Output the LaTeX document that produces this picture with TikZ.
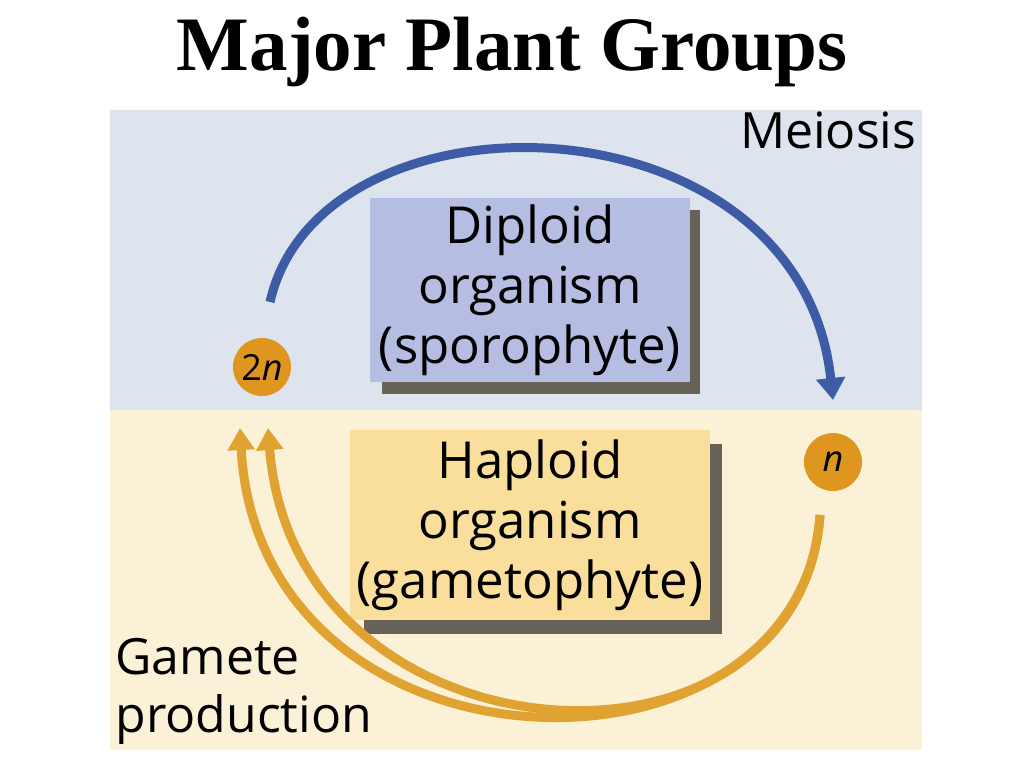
\documentclass[tikz,border=0pt]{standalone}
\usepackage{fontspec}
\setmainfont{Liberation Serif}
\newfontfamily\diag{Open Sans}
\usetikzlibrary{arrows.meta}
\definecolor{bluebg}{RGB}{221,228,238}
\definecolor{yelbg}{RGB}{250,241,214}
\definecolor{bluebox}{RGB}{181,190,226}
\definecolor{yelbox}{RGB}{250,222,155}
\definecolor{shad}{RGB}{105,98,88}
\definecolor{circ}{RGB}{222,150,30}
\definecolor{barrow}{RGB}{62,92,165}
\definecolor{oarrow}{RGB}{224,162,48}
\tikzset{
  lbl/.style={font=\diag\fontsize{51}{60}\selectfont, align=center, text=black},
  sidelbl/.style={font=\diag\fontsize{50}{58}\selectfont, align=left, text=black},
  ploidy/.style={circle, fill=circ, minimum size=58pt, inner sep=0pt, font=\diag\fontsize{36}{36}\selectfont},
  bluearc/.style={draw=barrow, line width=9pt, -{Triangle[length=22pt,width=28pt]}},
  orangearc/.style={draw=oarrow, line width=9pt, -{Triangle[length=22pt,width=26pt]}}
}
\begin{document}
\begin{tikzpicture}[x=1pt,y=-1pt]
\useasboundingbox (0,0) rectangle (1024,768);
\fill[white] (0,0) rectangle (1024,768);
\node[font=\bfseries\fontsize{77}{80}\selectfont] (title) at (512,52) {Major Plant Groups};
\fill[bluebg] (110,110) rectangle (922,410);
\fill[yelbg] (110,410) rectangle (922,750);
% boxes
\fill[shad] (382,210) rectangle (700,394);
\fill[bluebox] (370,198) rectangle (690,382);
\node[lbl] (dip) at (530,290) {Diploid\\organism\\(sporophyte)};
\fill[shad] (364,444) rectangle (722,634);
\fill[yelbox] (350,430) rectangle (710,620);
\node[lbl] (hap) at (530,525) {Haploid\\organism\\(gametophyte)};
% circles
\node[ploidy] (two) at (262,367) {2\textit{n}};
\node[ploidy] (one) at (833,462) {\textit{n}};
\coordinate (bs) at (270,302);
\coordinate (be) at (833,400);
\coordinate (os) at (820,515);
\coordinate (oe1) at (240,428);
\coordinate (oe2) at (268,428);
\draw[bluearc] (bs) .. controls (320,80) and (800,90) .. (be);
\draw[orangearc] (os) .. controls (800,800) and (260,790) .. (oe1);
\draw[orangearc] (os) .. controls (800,800) and (295,770) .. (oe2);
\node[sidelbl, anchor=north east] (mei) at (920,108) {Meiosis};
\node[sidelbl, anchor=south west] (gam) at (112,748) {Gamete\\production};
\end{tikzpicture}
\end{document}
